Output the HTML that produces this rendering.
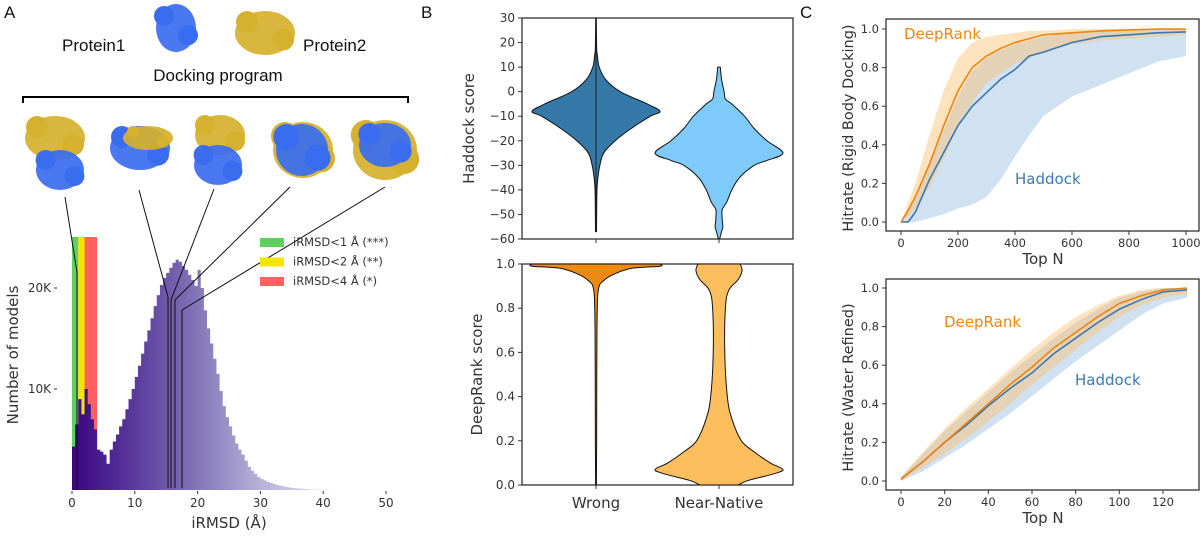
<!DOCTYPE html>
<html><head><meta charset="utf-8"><style>
body{margin:0;background:#fff;width:1200px;height:534px;overflow:hidden}
svg{font-family:"DejaVu Sans","Liberation Sans",sans-serif}
.t{fill:#333}
.big{font-family:"Liberation Sans",sans-serif;font-size:17px;fill:#111}
</style></head><body>
<svg id="fig" width="1200" height="534" viewBox="0 0 1200 534">
<defs>
<linearGradient id="hg" gradientUnits="userSpaceOnUse" x1="72" y1="0" x2="355" y2="0">
<stop offset="0" stop-color="#3a0582"/><stop offset="0.22" stop-color="#5a3a9c"/><stop offset="0.44" stop-color="#8275b8"/><stop offset="0.67" stop-color="#b8b3d8"/><stop offset="1" stop-color="#eeedf6"/></linearGradient>
</defs>
<g>
<text x="4" y="18" class="big">A</text>
<text x="62" y="51" class="big">Protein1</text>
<text x="303" y="51" class="big">Protein2</text>
<text x="218" y="81" class="big" text-anchor="middle">Docking program</text>
<path d="M23,103 V97 H408 V103" fill="none" stroke="#000" stroke-width="2"/>
<g id="prot"></g>
<g id="hist"></g>
</g>
<g id="pb">
<text x="421" y="18" class="big">B</text>
</g>
<g id="pc">
<text x="800" y="18" class="big">C</text>
</g>
</svg>
<script>
// ---------- Panel A histogram data (0.5 Å bins, counts in thousands) ----------
const histCounts=[4.3,6.5,9,7.5,10,8.5,7,6,4,3.8,3.5,2.6,4,4.8,5.5,6.3,7,8,9,10,11.2,12.3,13.5,14.7,15.8,17,18.2,19.3,20.3,21,21.5,22,22.5,22.8,22.6,22.2,21.8,21.3,20.8,20.2,21.8,20,17.8,16,14.5,13,11.5,9.8,8.3,7.2,6.3,5.4,4.6,4,3.5,2.9,2.3,1.9,1.6,1.3,1.1,0.95,0.8,0.7,0.6,0.5,0.42,0.36,0.3,0.25,0.2,0.17,0.14,0.12,0.1,0.08,0.06,0.05,0.04,0.03,0.02,0.02,0.01,0.01,0.01,0,0,0,0,0,0,0,0,0,0,0,0,0,0,0];
const histBin=0.5;
const histXTicks=[0,10,20,30,40,50];
const histYTicks=[10,20];
const histYTickLabels=["10K","20K"];
const rangeBands=[[0,1,"#5fcf5f","iRMSD<1 Å (***)"],[1,2,"#f2e600","iRMSD<2 Å (**)"],[2,4,"#ff6060","iRMSD<4 Å (*)"]];

// ---------- Panel B violin data: [value, relative half-width] ----------
const hadWrong=[[30,0.005],[18,0.01],[15,0.02],[10,0.05],[5,0.15],[0,0.38],[-5,0.8],[-8,1.0],[-10,0.85],[-15,0.55],[-20,0.3],[-25,0.12],[-30,0.06],[-35,0.03],[-40,0.015],[-50,0.01],[-57,0.008]];
const hadNative=[[10,0.02],[5,0.04],[0,0.08],[-3,0.1],[-5,0.2],[-10,0.4],[-15,0.55],[-20,0.75],[-25,1.0],[-28,0.75],[-30,0.55],[-35,0.32],[-40,0.2],[-45,0.12],[-48,0.05],[-52,0.05],[-55,0.06],[-57,0.04],[-60,0.01]];
const drWrong=[[1.0,1.0],[0.99,1.0],[0.98,0.55],[0.95,0.25],[0.92,0.1],[0.9,0.05],[0.85,0.025],[0.7,0.015],[0.5,0.012],[0.2,0.01],[0,0.006]];
const drNative=[[1.0,0.33],[0.97,0.36],[0.93,0.3],[0.88,0.15],[0.8,0.1],[0.6,0.09],[0.4,0.13],[0.3,0.2],[0.2,0.35],[0.15,0.55],[0.1,0.8],[0.07,1.0],[0.05,0.85],[0.02,0.45],[0,0.3]];
const hadTicks=[30,20,10,0,-10,-20,-30,-40,-50,-60];
const drTicks=[0,0.2,0.4,0.6,0.8,1.0];
const violinCats=["Wrong","Near-Native"];

// ---------- Panel C data ----------
const rigidN=[0,25,50,100,150,200,250,300,350,400,450,500,600,700,800,900,1000];
const rigidDR=[0,0.06,0.13,0.3,0.5,0.68,0.8,0.86,0.9,0.93,0.95,0.97,0.98,0.99,0.995,1,1];
const rigidDRhi=[0,0.1,0.2,0.45,0.68,0.85,0.93,0.96,0.97,0.98,0.99,0.99,1,1,1,1,1];
const rigidDRlo=[0,0.03,0.07,0.18,0.33,0.5,0.62,0.72,0.77,0.82,0.85,0.88,0.92,0.94,0.95,0.96,0.97];
const rigidHD=[0,0,0.05,0.22,0.36,0.5,0.6,0.67,0.74,0.79,0.86,0.88,0.93,0.96,0.97,0.98,0.985];
const rigidHDhi=[0,0.05,0.12,0.3,0.48,0.65,0.78,0.85,0.89,0.92,0.94,0.96,0.98,0.99,0.99,1,1];
const rigidHDlo=[0,0,0,0.02,0.04,0.07,0.09,0.13,0.22,0.34,0.45,0.55,0.65,0.71,0.77,0.83,0.86];
const waterN=[0,10,20,30,40,50,60,70,80,90,100,110,120,131];
const waterDR=[0.01,0.1,0.2,0.3,0.4,0.5,0.59,0.69,0.77,0.85,0.92,0.96,0.99,1.0];
const waterDRhi=[0.02,0.15,0.27,0.38,0.48,0.58,0.68,0.77,0.85,0.91,0.96,0.99,1,1];
const waterDRlo=[0,0.07,0.14,0.22,0.31,0.4,0.5,0.59,0.68,0.77,0.85,0.91,0.95,0.97];
const waterHD=[0.01,0.1,0.2,0.29,0.39,0.48,0.56,0.66,0.74,0.82,0.89,0.94,0.98,0.99];
const waterHDhi=[0.02,0.14,0.26,0.36,0.46,0.56,0.65,0.74,0.82,0.89,0.95,0.98,1,1];
const waterHDlo=[0,0.05,0.12,0.19,0.27,0.35,0.44,0.53,0.62,0.7,0.78,0.86,0.92,0.95];
const rigidTicks=[0,200,400,600,800,1000];
const waterTicks=[0,20,40,60,80,100,120];
const hitTicks=[0,0.2,0.4,0.6,0.8,1.0];

const NS="http://www.w3.org/2000/svg";
function mk(tag,attrs,parent){const e=document.createElementNS(NS,tag);for(const k in attrs)e.setAttribute(k,attrs[k]);parent.appendChild(e);return e;}
function txt(x,y,s,parent,cls,anchor){const e=mk('text',{x:x,y:y,'class':cls||'t','text-anchor':anchor||'middle','font-size':11},parent);e.textContent=s;return e;}
function smooth(pts){
  let d="M"+pts[0][0]+","+pts[0][1];
  for(let i=0;i<pts.length-1;i++){
    const p0=pts[Math.max(0,i-1)],p1=pts[i],p2=pts[i+1],p3=pts[Math.min(pts.length-1,i+2)];
    const c1=[p1[0]+(p2[0]-p0[0])/6,p1[1]+(p2[1]-p0[1])/6],c2=[p2[0]-(p3[0]-p1[0])/6,p2[1]-(p3[1]-p1[1])/6];
    d+=` C${c1[0]},${c1[1]} ${c2[0]},${c2[1]} ${p2[0]},${p2[1]}`;
  }
  return d;
}

// ---- proteins (illustrative blobs) ----
const prot=document.getElementById('prot');
function blob(cx,cy,rx,ry,col,parent,name){
  const g=mk('g',{},parent);
  
  
  mk('ellipse',{cx:cx,cy:cy,rx:rx,ry:ry,fill:col,opacity:0.92},g);
  mk('circle',{cx:cx-rx*0.6,cy:cy-ry*0.5,r:Math.min(rx,ry)*0.5,fill:col},g);
  mk('circle',{cx:cx+rx*0.6,cy:cy+ry*0.3,r:Math.min(rx,ry)*0.5,fill:col},g);
}
const B="#3a6cf0",Y="#d6b12e";
blob(176,28,20,24,B,prot,'protein1');
blob(265,33,30,22,Y,prot,'protein2');
blob(55,138,30,22,Y,prot,'model1-yellow');blob(60,170,24,20,B,prot,'model1-blue');
blob(140,148,30,22,B,prot,'model2-blue');blob(148,138,25,12,Y,prot,'model2-yellow');
blob(220,135,25,20,Y,prot,'model3-yellow');blob(218,165,24,20,B,prot,'model3-blue');
blob(303,150,30,28,Y,prot,'model4-yellow');blob(302,150,26,26,B,prot,'model4-blue');
blob(385,150,32,30,Y,prot,'model5-yellow');blob(385,145,26,22,B,prot,'model5-blue');

// ---- histogram ----
const hist=document.getElementById('hist');
const hx=v=>72+v*(386-72)/50, hy=v=>490-v*10.1;
rangeBands.forEach((b,i)=>{const r=mk('rect',{x:hx(b[0]),y:237,width:hx(b[1])-hx(b[0]),height:490-237,fill:b[2]},hist);
});
let d="M"+hx(0)+","+hy(0);
histCounts.forEach((c,i)=>{d+=" L"+hx(i*histBin)+","+hy(c)+" L"+hx((i+1)*histBin)+","+hy(c);});
d+=" L"+hx(histCounts.length*histBin)+","+hy(0)+" Z";
const hp=mk('path',{d:d,fill:"url(#hg)"},hist);

const leaders=[[65,197,77,272,77,490],[139,190,168,297,168,488],[214,189,171,300,171,488],[290,187,175,300,175,488],[385,187,182,310,182,488]];
leaders.forEach((l,i)=>{const p=mk('polyline',{points:`${l[0]},${l[1]} ${l[2]},${l[3]} ${l[4]},${l[5]}`,fill:'none',stroke:'#111','stroke-width':1},hist);
});
histXTicks.forEach(v=>{mk('line',{x1:hx(v),x2:hx(v),y1:491,y2:494,stroke:'#333'},hist);const t=txt(hx(v),507,String(v),hist);t.setAttribute('font-size','12');});
histYTicks.forEach((v,i)=>{mk('line',{x1:54,x2:57,y1:hy(v),y2:hy(v),stroke:'#333'},hist);const t=txt(51,hy(v)+4,histYTickLabels[i],hist,'t','end');t.setAttribute('font-size','12');});
let t=txt(229,528,"iRMSD (Å)",hist);t.setAttribute('font-size','15');
t=txt(0,0,"Number of models",hist);t.setAttribute('font-size','15');t.setAttribute('transform','translate(18,355) rotate(-90)');
rangeBands.forEach((b,i)=>{const y=242+i*19.5;const g=mk('g',{},hist);
mk('rect',{x:260,y:y-4,width:24,height:9,fill:b[2]},g);const e=txt(293,y+4,b[3],g,'t','start');e.setAttribute('font-size','11.5');});

// ---- Panel B violins ----
const pb=document.getElementById('pb');
function violinAxes(top,bot,ticks,yfn,title,fmt){
  mk('rect',{x:522,y:top,width:271,height:bot-top,fill:'none',stroke:'#222','stroke-width':1.2},pb);
  ticks.forEach(v=>{mk('line',{x1:518,x2:522,y1:yfn(v),y2:yfn(v),stroke:'#333'},pb);const e=txt(515,yfn(v)+4,fmt(v),pb,'t','end');e.setAttribute('font-size','12');});
  const e=txt(0,0,title,pb);e.setAttribute('font-size','15');e.setAttribute('transform',`translate(${title[0]=='H'?474:482},${(top+bot)/2}) rotate(-90)`);
}
const hyB=v=>18+(30-v)*(239-18)/90, dyB=v=>485-v*(485-264);
violinAxes(18,239,hadTicks,hyB,"Haddock score",v=>v<0?"−"+(-v):String(v));
violinAxes(264,485,drTicks,dyB,"DeepRank score",v=>v.toFixed(1));
const cxs=[596,719];
function violin(data,cx,yfn,col,name){
  const R=data.map(p=>[cx+p[1]*64,yfn(p[0])]);
  const L=data.map(p=>[cx-p[1]*64,yfn(p[0])]).reverse();
  const dR=smooth(R), dL=smooth(L).replace(/^M/,' L');
  const e=mk('path',{d:dR+dL+' Z',fill:col,stroke:'#111','stroke-width':1},pb);
  
}
violin(hadWrong,cxs[0],hyB,'#3579a8','violin-haddock-wrong');
mk('line',{x1:cxs[0],x2:cxs[0],y1:hyB(30),y2:hyB(-57),stroke:'#222','stroke-width':1},pb);
violin(hadNative,cxs[1],hyB,'#7ecbfb','violin-haddock-near-native');
violin(drWrong,cxs[0],dyB,'#ee8a10','violin-deeprank-wrong');
violin(drNative,cxs[1],dyB,'#fdbe5e','violin-deeprank-near-native');
violinCats.forEach((c,i)=>{mk('line',{x1:cxs[i],x2:cxs[i],y1:239,y2:243,stroke:'#333'},pb);mk('line',{x1:cxs[i],x2:cxs[i],y1:485,y2:489,stroke:'#333'},pb);
const e=txt(cxs[i],508,c,pb);e.setAttribute('font-size','15');});

// ---- Panel C ----
const pc=document.getElementById('pc');
function hitPlot(top,bot,y0,y1,xmax,xmaxPix,xs,series,ticks,ytitle,labels,name){
  const g=mk('g',{},pc);
  const X=v=>901+v*(xmaxPix-901)/xmax, Yf=v=>y0-v*(y0-y1);
  const poly=(a)=>a.map((v,i)=>`${X(xs[i])},${Yf(v)}`);
  series.forEach(s=>{
    const band=mk('polygon',{points:poly(s.hi).concat(poly(s.lo).reverse()).join(' '),fill:s.band,'fill-opacity':s.op},g);
    
  });
  series.forEach(s=>{const l=mk('polyline',{points:poly(s.mean).join(' '),fill:'none',stroke:s.col,'stroke-width':1.6},g);
    });
  mk('rect',{x:886,y:top,width:313,height:bot-top,fill:'none',stroke:'#222','stroke-width':1.2},g);
  ticks.forEach(v=>{mk('line',{x1:X(v),x2:X(v),y1:bot,y2:bot+4,stroke:'#333'},g);const e=txt(X(v),bot+16,String(v),g);e.setAttribute('font-size','11.5');});
  hitTicks.forEach(v=>{mk('line',{x1:882,x2:886,y1:Yf(v),y2:Yf(v),stroke:'#333'},g);const e=txt(879,Yf(v)+4,v.toFixed(1),g,'t','end');e.setAttribute('font-size','11.5');});
  let e=txt(1043,bot+33,"Top N",g);e.setAttribute('font-size','15');
  e=txt(0,0,ytitle,g);e.setAttribute('font-size','14.5');e.setAttribute('transform',`translate(853,${(top+bot)/2+3}) rotate(-90)`);
  labels.forEach(l=>{const t=txt(l[0],l[1],l[2],g,'t','start');t.setAttribute('font-size','15');t.setAttribute('style','fill:'+l[3]);});
}
hitPlot(19,231,222,29,1000,1186,rigidN,[
 {name:'haddock',mean:rigidHD,hi:rigidHDhi,lo:rigidHDlo,col:'#3a78b0',band:'#a9c8e6',op:0.55},
 {name:'deeprank',mean:rigidDR,hi:rigidDRhi,lo:rigidDRlo,col:'#f0820f',band:'#fdc072',op:0.45}],
 rigidTicks,"Hitrate (Rigid Body Docking)",[[904,39,"DeepRank","#f0870f"],[1015,184,"Haddock","#3a7ab0"]],'rigid-body-plot');
hitPlot(279,490,481,288,120,1163,waterN,[
 {name:'haddock',mean:waterHD,hi:waterHDhi,lo:waterHDlo,col:'#3a78b0',band:'#a9c8e6',op:0.55},
 {name:'deeprank',mean:waterDR,hi:waterDRhi,lo:waterDRlo,col:'#f0820f',band:'#fdc072',op:0.45}],
 waterTicks,"Hitrate (Water Refined)",[[944,327,"DeepRank","#f0870f"],[1075,385,"Haddock","#3a7ab0"]],'water-refined-plot');
</script>
</body></html>
